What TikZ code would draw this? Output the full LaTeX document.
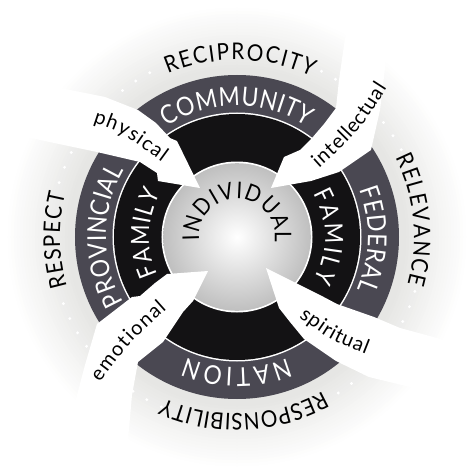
\documentclass[tikz,border=0pt]{standalone}
\usepackage{fontspec}
\setmainfont{Lato}
\newfontfamily\ringfont[FakeStretch=0.88]{Lato}
\newfontfamily\outerfont[FakeStretch=0.9]{Lato}
\usetikzlibrary{decorations.text}
\definecolor{ringgray}{HTML}{4A4852}
\definecolor{ringblack}{HTML}{131214}
\definecolor{bgc}{HTML}{E6E6E4}
\tikzset{
  outerlbl/.style={decorate,decoration={text along path,text align=fit to path,text color=black,
     text={|\outerfont\fontsize{23}{23}\selectfont|#1}}},
  ringlbl/.style={decorate,decoration={text along path,text align=fit to path,text color=white,
     text={|\ringfont\fontsize{26}{26}\selectfont|#1}}},
  famlbl/.style={decorate,decoration={text along path,text align=fit to path,text color=white,
     text={|\ringfont\fontsize{25}{25}\selectfont|#1}}},
  indlbl/.style={decorate,decoration={text along path,text align=fit to path,text color=black,
     text={|\outerfont\fontsize{23}{23}\selectfont|#1}}},
  arrowlbl/.style={decorate,decoration={text along path,text align=fit to path,text color=black,
     text={|\fontsize{20}{20}\selectfont|#1}}},
  swoosh/.style={fill=white}
}
\begin{document}
\begin{tikzpicture}[x=1pt,y=1pt]
\useasboundingbox (-237,-237) rectangle (237,237);
\fill[white] (-237,-237) rectangle (237,237);
% soft background glow
\foreach \i in {0,...,21}{
  \pgfmathtruncatemacro{\rr}{232-3*\i}
  \pgfmathtruncatemacro{\pp}{100*\i/21}
  \fill[bgc!\pp!white] (0,0) circle (\rr);
}
% faint dots
\foreach \a in {118,123,...,163,28,33,...,63,201,206,...,246,-57,-52,...,-17}
  \fill[white] (\a:186) circle (1.6);
% rings
\fill[ringgray] (0,0) circle (162);
\fill[white] (0,0) circle (124.5);
\fill[ringblack] (0,0) circle (123);
\fill[white] (0,0) circle (75.5);
\shade[inner color=white,outer color=gray!50] (0,0) circle (73.8);
% white arrows (pixel coordinates)
\begin{scope}[shift={(-237,237)},yscale=-1]
\fill[swoosh] (0,84) -- (60,88) -- (105,97) -- (138,110) -- (156,123) -- (170,138) -- (177,141)
  -- (200,188) -- (158,181) -- (157,173) -- (140,162) -- (97,152) -- (40,140) -- (0,131) -- cycle;
\fill[swoosh] (352,0) -- (344,45) -- (339,80) -- (336,108) -- (324,124) -- (312,138) -- (300,150)
  -- (284,157) -- (271,188) -- (311,181) -- (339,172) -- (371,150) -- (380,110) -- (386,60) -- (390,0) -- cycle;
\fill[swoosh] (474,348) -- (400,328) -- (374,317) -- (337,304) -- (320,295) -- (304,287) -- (266,268)
  -- (279,308) -- (290,322) -- (304,339) -- (336,361) -- (369,377) -- (414,388) -- (474,392) -- cycle;
\fill[swoosh] (60,474) -- (72,414) -- (85,365) -- (97,324) -- (132,297) -- (140,296) -- (155,283) -- (167,274)
  -- (208,271) -- (193,301) -- (183,312) -- (163,342) -- (138,362) -- (132,395) -- (125,474) -- cycle;
\end{scope}
% outer words
\path[outerlbl={RECIPROCITY}] (113:177) arc[start angle=113,end angle=65,radius=177];
\path[outerlbl={RELEVANCE}] (26.6:177) arc[start angle=26.6,end angle=-15.5,radius=177];
\path[outerlbl={RESPONSIBILITY}] (-61:177) arc[start angle=-61,end angle=-114.4,radius=177];
\path[outerlbl={RESPECT}] (196.2:177) arc[start angle=196.2,end angle=165.8,radius=177];
% ring words
\path[ringlbl={COMMUNITY}] (122.4:131) arc[start angle=122.4,end angle=57.6,radius=131];
\path[ringlbl={FEDERAL}] (21.4:131) arc[start angle=21.4,end angle=-23.5,radius=131];
\path[ringlbl={NATION}] (-67.4:131) arc[start angle=-67.4,end angle=-112.9,radius=131];
\path[ringlbl={PROVINCIAL}] (209.8:131) arc[start angle=209.8,end angle=149.4,radius=131];
\path[famlbl={FAMILY}] (205:88) arc[start angle=205,end angle=150,radius=88];
\path[famlbl={FAMILY}] (29.7:88) arc[start angle=29.7,end angle=-29.4,radius=88];
\path[indlbl={INDIVIDUAL}] (186:38) arc[start angle=186,end angle=-8,radius=38];
% arrow words
\path[arrowlbl={physical}] (-144,114) .. controls (-115.5,104.5) .. (-75,75);
\path[arrowlbl={intellectual}] (82,69) .. controls (121,104) .. (150,149);
\path[arrowlbl={spiritual}] (62,-80) .. controls (93.1,-102.9) .. (129,-117);
\path[arrowlbl={emotional}] (-137,-145) .. controls (-107.1,-105.1) .. (-70,-72);
\end{tikzpicture}
\end{document}
